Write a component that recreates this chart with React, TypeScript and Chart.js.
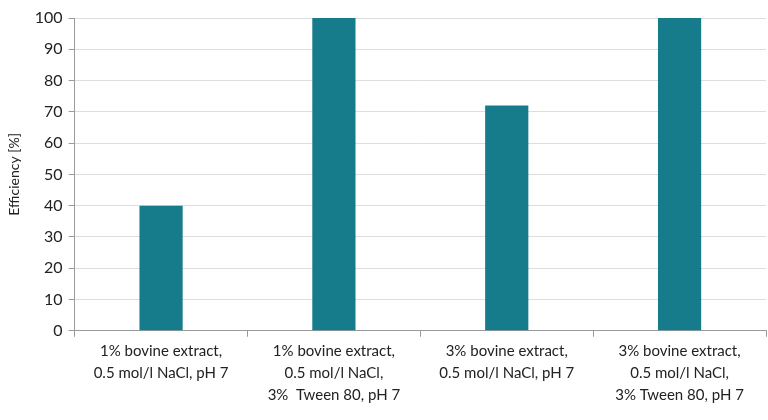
import React, { useEffect, useRef } from 'react';
import { Chart, registerables } from 'chart.js';

Chart.register(...registerables);

const categories: string[][] = [
  ['1% bovine extract,', '0.5 mol/l NaCl, pH 7'],
  ['1% bovine extract,', '0.5 mol/l NaCl,', '3%  Tween 80, pH 7'],
  ['3% bovine extract,', '0.5 mol/l NaCl, pH 7'],
  ['3% bovine extract,', '0.5 mol/l NaCl,', '3% Tween 80, pH 7'],
];
const efficiency = [40, 100, 72, 100];

const App: React.FC = () => {
  const chartRef = useRef<HTMLCanvasElement>(null);

  useEffect(() => {
    if (!chartRef.current) return;
    const ctx = chartRef.current.getContext('2d');
    if (!ctx) return;

    const font = 'Lato, "Open Sans", sans-serif';

    const myChart = new Chart(ctx, {
      type: 'bar',
      data: {
        labels: categories,
        datasets: [
          {
            label: 'Efficiency',
            data: efficiency,
            backgroundColor: '#167b8b',
            barPercentage: 0.25,
            categoryPercentage: 1,
          },
        ],
      },
      options: {
        animation: false,
        responsive: true,
        maintainAspectRatio: false,
        layout: { padding: { top: 18, right: 2, left: 6, bottom: 10 } },
        plugins: {
          legend: { display: false },
          tooltip: { enabled: false },
        },
        scales: {
          x: {
            grid: {
              offset: true,
              drawOnChartArea: false,
              tickLength: 6,
              color: '#9a9a9a',
            },
            border: { color: '#9a9a9a' },
            ticks: {
              color: '#222',
              font: { family: font, size: 15, lineHeight: 1.45 },
              padding: 4,
              maxRotation: 0,
            },
          },
          y: {
            min: 0,
            max: 100,
            ticks: {
              stepSize: 10,
              color: '#222',
              font: { family: font, size: 16 },
              padding: 6,
            },
            grid: {
              color: '#dddddd',
              tickColor: '#9a9a9a',
              tickLength: 6,
            },
            border: { color: '#9a9a9a' },
            title: {
              display: true,
              text: 'Efficiency [%]',
              color: '#222',
              font: { family: font, size: 14 },
              padding: { top: 0, bottom: 6 },
            },
          },
        },
      },
    });

    return () => {
      myChart.destroy();
    };
  }, []);

  return (
    <div style={{ position: 'fixed', left: 0, top: 0, width: 768, height: 420, background: '#fff' }}>
      <canvas ref={chartRef} />
    </div>
  );
};

export default App;
